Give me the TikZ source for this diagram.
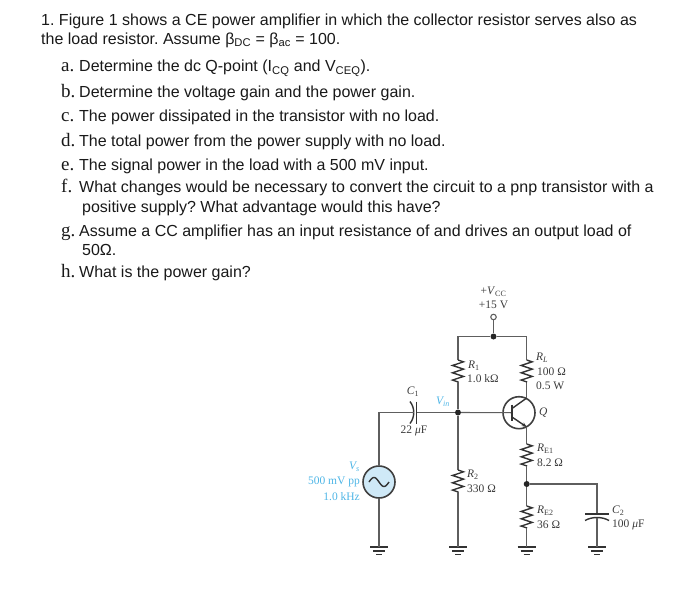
\documentclass[tikz,border=0pt]{standalone}
\usepackage{fontspec}
\setmainfont{Liberation Sans}
\newfontfamily\circfont{Liberation Serif}
\usetikzlibrary{arrows.meta,decorations.pathmorphing}
\definecolor{wiregray}{HTML}{5E5E5E}
\definecolor{inkgray}{HTML}{3C3C3C}
\definecolor{srcblue}{HTML}{4DB5E6}
\definecolor{srcfill}{HTML}{CFE9F7}

\begin{document}
\frenchspacing
\begin{tikzpicture}[x=1pt,y=-1pt,
    qline/.style={anchor=base west,inner sep=0pt,font=\fontsize{16}{18}\selectfont,text=black!90},
    qletter/.style={anchor=base west,inner sep=0pt,font=\circfont\fontsize{19}{18}\selectfont,text=black!90},
    val/.style={anchor=west,inner sep=0pt,font=\circfont\fontsize{11.5}{12}\selectfont,text=inkgray},
    srcval/.style={anchor=east,inner sep=0pt,font=\circfont\fontsize{11.5}{12}\selectfont,text=srcblue},
    wire/.style={draw=wiregray,line width=1.1pt},
    res/.style={draw=black!80,line width=1.4pt,decorate,decoration={zigzag,segment length=7.3pt,amplitude=5.5pt}},
    plate/.style={draw=black!80,line width=1.4pt},
    dot/.style={circle,fill=black!85,inner sep=0pt,minimum size=6pt},
    symbol/.style={circle,draw=black!75,line width=1.6pt,inner sep=0pt,minimum size=32pt}
]
\useasboundingbox (0,0) rectangle (700,599);

% === Question text ===
\node[qline] (head1) at (41,25.7) {1. Figure 1 shows a CE power amplifier in which the collector resistor serves also as};
\node[qline] (head2) at (41,44.3) {the load resistor. Assume β\textsubscript{DC} = β\textsubscript{ac} = 100.};

\foreach \y/\name/\lab/\txt in {
    72/a/a./{Determine the dc Q-point (I\textsubscript{CQ} and V\textsubscript{CEQ}).},
    97/b/b./{Determine the voltage gain and the power gain.},
    121.5/c/c./{The power dissipated in the transistor with no load.},
    146/d/d./{The total power from the power supply with no load.},
    170/e/e./{The signal power in the load with a 500 mV input.},
    192.5/f/f./{What changes would be necessary to convert the circuit to a pnp transistor with a},
    236/g/g./{Assume a CC amplifier has an input resistance of and drives an output load of},
    277/h/h./{What is the power gain?}} {
    \node[qletter] (lab\name) at (61,\y) {\lab};
    \node[qline] (item\name) at (79,\y) {\txt};
}
\node[qline] (itemf2) at (82,212) {positive supply? What advantage would this have?};
\node[qline] (itemg2) at (82,255) {50Ω.};

% === Junctions and terminals ===
\node[circle,draw=wiregray,fill=white,line width=1.1pt,inner sep=0pt,minimum size=5.5pt] (vcc) at (493.5,317) {};
\node[dot] (top) at (493.5,336.5) {};
\node[dot] (base) at (458,412.5) {};
\node[dot] (emit) at (526.7,484) {};

\coordinate (topl) at (458,336.5);
\coordinate (topr) at (526.7,336.5);
\coordinate (inl) at (379,412.5);
\coordinate (emitr) at (597,484);

% === Resistor end points ===
\coordinate (r1a) at (458,360);    \coordinate (r1b) at (458,382);
\coordinate (r2a) at (458,470);    \coordinate (r2b) at (458,492);
\coordinate (rla) at (526.7,360);  \coordinate (rlb) at (526.7,382);
\coordinate (re1a) at (526.7,444); \coordinate (re1b) at (526.7,466);
\coordinate (re2a) at (526.7,506); \coordinate (re2b) at (526.7,528);

% === Grounds ===
\foreach \x/\g in {379/vs,458/rb,526.7/re,597/cb} {
    \coordinate (gnd\g) at (\x,547);
    \draw[draw=black!80,line width=1.5pt] (\x-9,547) -- (\x+9,547);
    \draw[draw=black!80,line width=1.5pt] (\x-6,551) -- (\x+6,551);
    \draw[draw=black!80,line width=1.5pt] (\x-3,554.5) -- (\x+3,554.5);
}

% === Supply rail ===
\draw[wire] (vcc) -- (top);
\draw[wire] (r1a) -- (topl) -- (top) -- (topr) -- (rla);

% === Bias divider ===
\draw[res] (r1a) -- (r1b);
\draw[wire] (r1b) -- (base);
\draw[wire] (base) -- (r2a);
\draw[res] (r2a) -- (r2b);
\draw[wire] (r2b) -- (gndrb);

% === Input capacitor ===
\coordinate (c1l) at (413.5,412.5);
\coordinate (c1r) at (416.5,412.5);
\draw[plate] (410,401.5) .. controls (415,408) and (415,417) .. (410,423.5);
\draw[plate] (416.5,401.5) -- (416.5,423.5);
\draw[wire] (c1r) -- (base);

% === Source ===
\node[symbol,fill=srcfill] (vs) at (379,482) {};
\draw[draw=black!80,line width=1.4pt,domain=369:389,samples=40] plot (\x,{482+4.5*sin(18*(\x-379))});
\draw[wire] (c1l) -- (inl) -- (vs);
\draw[wire] (vs) -- (gndvs);

% === Transistor ===
\node[symbol] (qt) at (519,412.7) {};
\coordinate (qb) at (512,412.7);
\coordinate (qc) at (526.7,398);
\coordinate (qe) at (526.7,427);
\draw[wire] (base) -- (qb);
\draw[plate] (512,404.5) -- (512,421);
\draw[plate] (512,408.5) -- (qc);
\draw[plate,-{Stealth[length=5pt,width=4pt]}] (512,417) -- (qe);
\draw[wire] (rlb) -- (qc);
\draw[res] (rla) -- (rlb);

% === Emitter leg ===
\draw[wire] (qe) -- (re1a);
\draw[res] (re1a) -- (re1b);
\draw[wire] (re1b) -- (emit);
\draw[wire] (emit) -- (re2a);
\draw[res] (re2a) -- (re2b);
\draw[wire] (re2b) -- (gndre);

% === Bypass capacitor ===
\coordinate (c2a) at (597,514);
\coordinate (c2b) at (597,517.5);
\draw[wire] (emit) -- (emitr) -- (c2a);
\draw[plate] (585,514) -- (609,514);
\draw[plate] (585,520.5) .. controls (592,516.5) and (602,516.5) .. (609,520.5);
\draw[wire] (c2b) -- (gndcb);

% === Labels ===
\node[val,anchor=center] (lvcc) at (493.5,292) {+\textit{V}\textsubscript{CC}};
\node[val,anchor=center] (lvccv) at (493.5,305) {+15 V};
\node[val] (lr1) at (468,366) {\textit{R}\textsubscript{1}};
\node[val] (lr1v) at (467,379) {1.0 kΩ};
\node[val] (lrl) at (536,358) {\textit{R\textsubscript{L}}};
\node[val] (lrlv) at (537,372) {100 Ω};
\node[val] (lrlw) at (536,386) {0.5 W};
\node[val] (lq) at (539,413) {\textit{Q}};
\node[val] (lre1) at (537,449) {\textit{R}\textsubscript{E1}};
\node[val] (lre1v) at (537,463) {8.2 Ω};
\node[val] (lr2) at (467,475) {\textit{R}\textsubscript{2}};
\node[val] (lr2v) at (467,489) {330 Ω};
\node[val] (lre2) at (537,511) {\textit{R}\textsubscript{E2}};
\node[val] (lre2v) at (537,525) {36 Ω};
\node[val] (lc2) at (612,511) {\textit{C}\textsubscript{2}};
\node[val] (lc2v) at (612,525) {100 \textit{μ}F};
\node[val,anchor=center] (lc1) at (413,392) {\textit{C}\textsubscript{1}};
\node[val,anchor=center] (lc1v) at (414,431) {22 \textit{μ}F};
\node[srcval,anchor=center] (lvin) at (443,402) {\textit{V\textsubscript{in}}};
\node[srcval] (lvs) at (360,467) {\textit{V\textsubscript{s}}};
\node[srcval] (lvsv) at (360,482) {500 mV pp};
\node[srcval] (lvsf) at (360,497) {1.0 kHz};

\end{tikzpicture}
\end{document}
